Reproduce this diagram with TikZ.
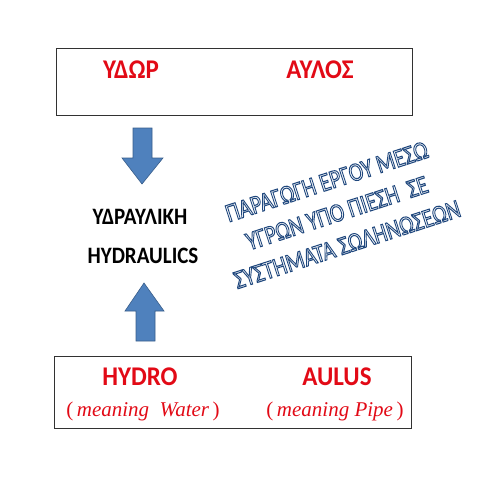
\documentclass[tikz,border=0pt]{standalone}
\usepackage{fontspec}
\setmainfont{Carlito}
\newfontfamily\serifit{Liberation Serif}
\definecolor{hred}{RGB}{226,10,22}
\definecolor{ablue}{RGB}{79,129,189}
\definecolor{ablueline}{RGB}{56,93,138}
\definecolor{boxline}{RGB}{50,50,50}
\newcommand{\outlineon}{\special{pdf:literal direct 1 Tr 0.9 w 0.12 0.28 0.49 RG}}
\newcommand{\outlineoff}{\special{pdf:literal direct 0 Tr}}
\tikzset{
  framebox/.style={draw=boxline, line width=1.4pt},
  redword/.style={text=hred, font=\bfseries\fontsize{25}{28}\selectfont, inner sep=0pt, yscale=1.08},
  meaning/.style={text=hred, font=\serifit\fontsize{21}{24}\selectfont, inner sep=0pt},
  centerword/.style={text=black, font=\bfseries\fontsize{21}{24}\selectfont, inner sep=0pt, yscale=1.12},
  blockarrow/.style={fill=ablue, draw=ablueline, line width=0.6pt},
  outlinetext/.style={font=\fontsize{22}{28}\selectfont, align=center, inner sep=0pt}
}
\begin{document}
\begin{tikzpicture}[x=1pt,y=-1pt]
\useasboundingbox (0,0) rectangle (480,480);
% top box
\node[framebox, minimum width=356pt, minimum height=67pt, anchor=north west] (topbox) at (56,48) {};
\node[redword] (ydor) at (131,70) {ΥΔΩΡ};
\node[redword] (aylos) at (320,70) {ΑΥΛΟΣ};
% bottom box
\node[framebox, minimum width=357pt, minimum height=72pt, anchor=north west] (botbox) at (54,356) {};
\node[redword] (hydro) at (140,377) {HYDRO};
\node[redword] (aulus) at (337,377) {AULUS};
\node[meaning] (mwater) at (143,411) {(\,\textit{meaning\ \ Water}\,)};
\node[meaning] (mpipe) at (335,411) {(\,\textit{meaning Pipe}\,)};
% centre words
\node[centerword] (ydraul) at (140,217) {ΥΔΡΑΥΛΙΚΗ};
\node[centerword] (hydraul) at (143,256) {HYDRAULICS};
% block arrows
\draw[blockarrow] (133,128) -- (152,128) -- (152,158) -- (163,158) -- (142,184) -- (122,158) -- (133,158) -- cycle;
\draw[blockarrow] (136,341) -- (155,341) -- (155,311) -- (164,311) -- (144,283) -- (125,311) -- (136,311) -- cycle;
% rotated outline text
\node[outlinetext, rotate=18, xscale=0.98, yscale=1.18] (prod) at (337,213) {\outlineon ΠΑΡΑΓΩΓΗ ΕΡΓΟΥ ΜΕΣΩ\\ ΥΓΡΩΝ ΥΠΟ ΠΙΕΣΗ\ \ ΣΕ\\ ΣΥΣΤΗΜΑΤΑ ΣΩΛΗΝΩΣΕΩΝ\outlineoff};
\end{tikzpicture}
\end{document}
